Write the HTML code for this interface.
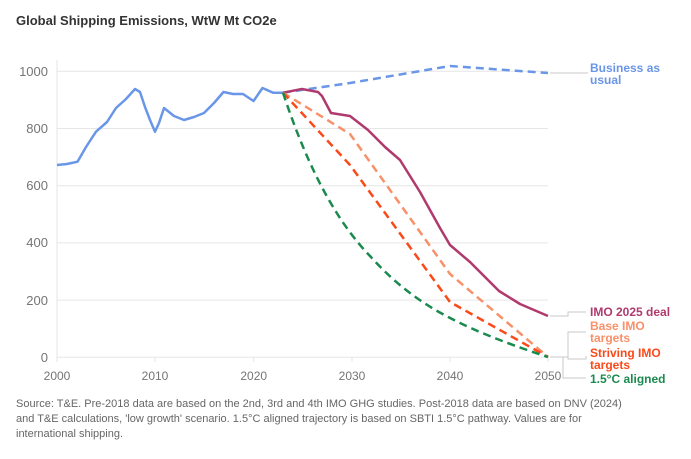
<!DOCTYPE html><html><head><style>body{margin:0;background:#fff;font-family:"Liberation Sans",sans-serif}</style></head><body>
<svg width="691" height="454" xmlns="http://www.w3.org/2000/svg" font-family="Liberation Sans, sans-serif">
<text x="16" y="25" font-size="13" font-weight="bold" fill="#333">Global Shipping Emissions, WtW Mt CO2e</text>
<g stroke="#e6e6e6" stroke-width="1">
<line x1="57" y1="71.3" x2="548" y2="71.3"/><line x1="57" y1="128.5" x2="548" y2="128.5"/><line x1="57" y1="185.7" x2="548" y2="185.7"/><line x1="57" y1="242.9" x2="548" y2="242.9"/><line x1="57" y1="300.1" x2="548" y2="300.1"/><line x1="57" y1="357.3" x2="548" y2="357.3"/>
<line x1="57" y1="60" x2="57" y2="362"/>
<line x1="155" y1="357" x2="155" y2="362"/><line x1="253.7" y1="357" x2="253.7" y2="362"/><line x1="352" y1="357" x2="352" y2="362"/><line x1="450" y1="357" x2="450" y2="362"/><line x1="548" y1="357" x2="548" y2="362"/>
</g>
<g font-size="13" fill="#757575" text-anchor="end">
<text x="48" y="76">1000</text><text x="48" y="133">800</text><text x="48" y="190">600</text><text x="48" y="247">400</text><text x="48" y="305">200</text><text x="48" y="362">0</text>
</g>
<g font-size="12" fill="#757575" text-anchor="middle">
<text x="57" y="380">2000</text><text x="155" y="380">2010</text><text x="253.7" y="380">2020</text><text x="352" y="380">2030</text><text x="450" y="380">2040</text><text x="548" y="380">2050</text>
</g>
<g fill="none" stroke-width="2.5" stroke-linejoin="round">
<polyline stroke="#6a96e8" points="57,165 67,164 77.5,161.7 86,147 96,131.7 107,122 116,108 126,99 135,89 140,92 145,107 150,120 155,131.7 159,123 164,108 174,116 184,120 194,117 204,113 214,103 223.5,92 233,94 243,94 253.5,101 262.5,88 273,92.7 283,92.7"/>
<polyline stroke="#6a96e8" stroke-dasharray="8,5" points="283,92.7 350,83 450,66 548,73"/>
<polyline stroke="#b03a6e" points="283,92.7 302,89 318,92 322,96 331,113 350,116 368,130 385,147 400,160 420,192 440,228 450,245 470,262 499,291 520,304 548,316"/>
<polyline stroke="#f8906a" stroke-dasharray="8,5" points="283,92.7 350,134 450,274 548,357"/>
<polyline stroke="#fa4a1a" stroke-dasharray="8,5" points="283,92.7 350,165 450,302 548,357"/>
<path stroke="#1b8a4e" stroke-dasharray="8,5" d="M283,92.7 C310,175 340,225 370,256 C410,300 450,325 548,357"/>
</g>
<g stroke="#c8c8c8" fill="none" stroke-width="1">
<polyline points="550,73 588,73"/>
<polyline points="550,316 568,316 568,312 586,312"/>
<polyline points="560,357 568,357 568,332 586,332"/>
<polyline points="560,357 568,357 568,359 586,359 586,356"/>
<polyline points="550,357 563,357 563,378 586,378"/>
</g>
<g font-size="12" font-weight="bold">
<text x="590" y="72" fill="#6a96e8">Business as</text><text x="590" y="84" fill="#6a96e8">usual</text>
<text x="590" y="316" fill="#b03a6e">IMO 2025 deal</text>
<text x="590" y="330" fill="#f8906a">Base IMO</text><text x="590" y="342" fill="#f8906a">targets</text>
<text x="590" y="357" fill="#fa4a1a">Striving IMO</text><text x="590" y="369" fill="#fa4a1a">targets</text>
<text x="590" y="383" fill="#1b8a4e">1.5°C aligned</text>
</g>
<g font-size="11" fill="#666">
<text x="16" y="407">Source: T&amp;E. Pre-2018 data are based on the 2nd, 3rd and 4th IMO GHG studies. Post-2018 data are based on DNV (2024)</text>
<text x="16" y="422">and T&amp;E calculations, 'low growth' scenario. 1.5°C aligned trajectory is based on SBTI 1.5°C pathway. Values are for</text>
<text x="16" y="437">international shipping.</text>
</g>
</svg></body></html>
